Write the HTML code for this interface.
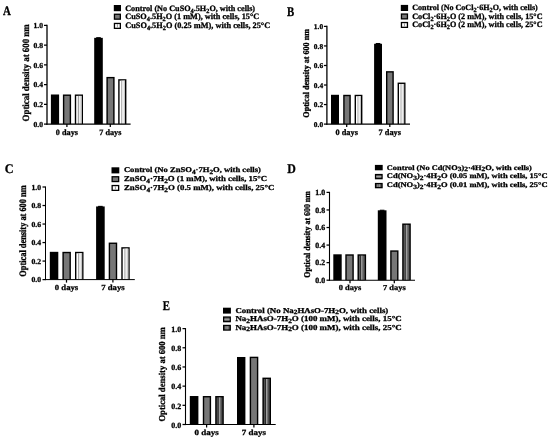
<!DOCTYPE html>
<html><head><meta charset="utf-8"><title>Figure</title>
<style>
html,body{margin:0;padding:0;background:#fff;}
body{width:550px;height:443px;overflow:hidden;}
svg{display:block;filter:blur(0.35px);}
text{font-family:"Liberation Serif", "Times New Roman", serif;fill:#000;text-rendering:geometricPrecision;}
.s{stroke:#000;stroke-width:0.28px;}
</style></head><body>
<svg width="550" height="443" viewBox="0 0 550 443">
<rect width="550" height="443" fill="#fff"/>
<text transform="translate(3 14.8) scale(0.82 1)" font-size="13.2" font-weight="bold" class="s">A</text>
<rect x="50.9" y="94.49" width="8.2" height="29.61" fill="#000"/>
<rect x="62.9" y="94.49" width="8.2" height="29.61" fill="#000"/>
<rect x="64.3" y="95.89" width="5.4" height="28.21" fill="#777777"/>
<rect x="74.8" y="94.49" width="8.2" height="29.61" fill="#000"/>
<rect x="76.2" y="95.89" width="5.4" height="28.21" fill="#fff"/>
<rect x="77.82" y="95.89" width="1.19" height="28.21" fill="#a2a2a2"/>
<rect x="79.01" y="95.89" width="1.51" height="28.21" fill="#eeeeee"/>
<rect x="80.52" y="95.89" width="1.08" height="28.21" fill="#c4c4c4"/>
<rect x="94.2" y="37.84" width="8.6" height="86.26" fill="#000"/>
<rect x="96.2" y="37.14" width="4.6" height="1.2" fill="#000"/>
<rect x="106.4" y="76.92" width="8.2" height="47.18" fill="#000"/>
<rect x="107.8" y="78.32" width="5.4" height="45.78" fill="#777777"/>
<rect x="118.2" y="79.19" width="8.2" height="44.91" fill="#000"/>
<rect x="119.6" y="80.59" width="5.4" height="43.51" fill="#fff"/>
<rect x="121.22" y="80.59" width="1.19" height="43.51" fill="#a2a2a2"/>
<rect x="122.41" y="80.59" width="1.51" height="43.51" fill="#eeeeee"/>
<rect x="123.92" y="80.59" width="1.08" height="43.51" fill="#c4c4c4"/>
<path d="M47 24.75V124.75" stroke="#000" stroke-width="1.3" fill="none"/>
<path d="M44 124.1H47" stroke="#000" stroke-width="1.25"/>
<text transform="translate(43 126.95) " font-size="7.6" font-weight="bold" text-anchor="end" class="s">0.0</text>
<path d="M44 104.36H47" stroke="#000" stroke-width="1.25"/>
<text transform="translate(43 107.21) " font-size="7.6" font-weight="bold" text-anchor="end" class="s">0.2</text>
<path d="M44 84.62H47" stroke="#000" stroke-width="1.25"/>
<text transform="translate(43 87.47) " font-size="7.6" font-weight="bold" text-anchor="end" class="s">0.4</text>
<path d="M44 64.88H47" stroke="#000" stroke-width="1.25"/>
<text transform="translate(43 67.73) " font-size="7.6" font-weight="bold" text-anchor="end" class="s">0.6</text>
<path d="M44 45.14H47" stroke="#000" stroke-width="1.25"/>
<text transform="translate(43 47.99) " font-size="7.6" font-weight="bold" text-anchor="end" class="s">0.8</text>
<path d="M44 25.4H47" stroke="#000" stroke-width="1.25"/>
<text transform="translate(43 28.25) " font-size="7.6" font-weight="bold" text-anchor="end" class="s">1.0</text>
<path d="M46.35 124.1H130.6" stroke="#000" stroke-width="1.3" fill="none"/>
<path d="M66.9 124.1V127.1" stroke="#000" stroke-width="1.25"/>
<text transform="translate(66.9 135) scale(1.0000 1)" font-size="8.200" font-weight="bold" text-anchor="middle" class="s">0 days</text>
<path d="M110.3 124.1V127.1" stroke="#000" stroke-width="1.25"/>
<text transform="translate(110.3 135) scale(1.0000 1)" font-size="8.200" font-weight="bold" text-anchor="middle" class="s">7 days</text>
<text transform="translate(29.4 72.9) rotate(-90) scale(1 1.08)" font-size="8.9" font-weight="bold" text-anchor="middle" class="s">Optical density at 600 nm</text>
<rect x="113.8" y="5" width="7.2" height="6.2" fill="#000"/>
<text transform="translate(125.2 10.7)" font-size="8.2" font-weight="bold" class="s"><tspan>Control (No CuSO</tspan><tspan font-size="6.3" dy="1.8">4</tspan><tspan dy="-1.8">.5H</tspan><tspan font-size="6.3" dy="1.8">2</tspan><tspan dy="-1.8">O, with cells)</tspan></text>
<rect x="114.45" y="14.25" width="5.9" height="4.9" fill="#777777" stroke="#000" stroke-width="1.3"/>
<text transform="translate(125.2 19.4)" font-size="8.27" font-weight="bold" class="s"><tspan>CuSO</tspan><tspan font-size="6.3" dy="1.8">4</tspan><tspan dy="-1.8">.5H</tspan><tspan font-size="6.3" dy="1.8">2</tspan><tspan dy="-1.8">O (1 mM), with cells, 15°C</tspan></text>
<rect x="114.45" y="23.45" width="5.9" height="4.9" fill="#fff" stroke="#000" stroke-width="1.3"/>
<rect x="116.9" y="24.1" width="1" height="3.6" fill="#999"/>
<text transform="translate(125.2 28.1)" font-size="8.31" font-weight="bold" class="s"><tspan>CuSO</tspan><tspan font-size="6.3" dy="1.8">4</tspan><tspan dy="-1.8">.5H</tspan><tspan font-size="6.3" dy="1.8">2</tspan><tspan dy="-1.8">O (0.25 mM), with cells, 25°C</tspan></text>
<text transform="translate(287.1 15.7) scale(0.82 1)" font-size="13.2" font-weight="bold" class="s">B</text>
<rect x="331" y="94.79" width="8" height="29.31" fill="#000"/>
<rect x="343.2" y="94.79" width="7.6" height="29.31" fill="#000"/>
<rect x="344.6" y="96.19" width="4.8" height="27.91" fill="#777777"/>
<rect x="354.6" y="94.79" width="7.8" height="29.31" fill="#000"/>
<rect x="356" y="96.19" width="5" height="27.91" fill="#fff"/>
<rect x="357.5" y="96.19" width="1.1" height="27.91" fill="#a2a2a2"/>
<rect x="358.6" y="96.19" width="1.4" height="27.91" fill="#eeeeee"/>
<rect x="360" y="96.19" width="1" height="27.91" fill="#c4c4c4"/>
<rect x="374.1" y="43.79" width="7.9" height="80.31" fill="#000"/>
<rect x="375.75" y="42.99" width="4.6" height="1.3" fill="#000"/>
<rect x="386" y="71.15" width="7.8" height="52.95" fill="#000"/>
<rect x="387.4" y="72.55" width="5" height="51.55" fill="#777777"/>
<rect x="397.6" y="82.58" width="7.9" height="41.52" fill="#000"/>
<rect x="399" y="83.98" width="5.1" height="40.12" fill="#fff"/>
<rect x="400.53" y="83.98" width="1.12" height="40.12" fill="#a2a2a2"/>
<rect x="401.65" y="83.98" width="1.43" height="40.12" fill="#eeeeee"/>
<rect x="403.08" y="83.98" width="1.02" height="40.12" fill="#c4c4c4"/>
<path d="M326.9 25.75V124.75" stroke="#000" stroke-width="1.3" fill="none"/>
<path d="M323.9 124.1H326.9" stroke="#000" stroke-width="1.25"/>
<text transform="translate(323.1 126.95) " font-size="7.4" font-weight="bold" text-anchor="end" class="s">0.0</text>
<path d="M323.9 104.56H326.9" stroke="#000" stroke-width="1.25"/>
<text transform="translate(323.1 107.41) " font-size="7.4" font-weight="bold" text-anchor="end" class="s">0.2</text>
<path d="M323.9 85.02H326.9" stroke="#000" stroke-width="1.25"/>
<text transform="translate(323.1 87.87) " font-size="7.4" font-weight="bold" text-anchor="end" class="s">0.4</text>
<path d="M323.9 65.48H326.9" stroke="#000" stroke-width="1.25"/>
<text transform="translate(323.1 68.33) " font-size="7.4" font-weight="bold" text-anchor="end" class="s">0.6</text>
<path d="M323.9 45.94H326.9" stroke="#000" stroke-width="1.25"/>
<text transform="translate(323.1 48.79) " font-size="7.4" font-weight="bold" text-anchor="end" class="s">0.8</text>
<path d="M323.9 26.4H326.9" stroke="#000" stroke-width="1.25"/>
<text transform="translate(323.1 29.25) " font-size="7.4" font-weight="bold" text-anchor="end" class="s">1.0</text>
<path d="M326.25 124.1H410" stroke="#000" stroke-width="1.3" fill="none"/>
<path d="M346.7 124.1V127.1" stroke="#000" stroke-width="1.25"/>
<text transform="translate(346.7 135.4) scale(1.0000 1)" font-size="8.300" font-weight="bold" text-anchor="middle" class="s">0 days</text>
<path d="M389.8 124.1V127.1" stroke="#000" stroke-width="1.25"/>
<text transform="translate(389.8 135.4) scale(1.0000 1)" font-size="8.300" font-weight="bold" text-anchor="middle" class="s">7 days</text>
<text transform="translate(308.9 73.35) rotate(-90) scale(1 1.08)" font-size="8.1" font-weight="bold" text-anchor="middle" class="s">Optical density at 600 nm</text>
<rect x="400.8" y="4.9" width="7.3" height="6.1" fill="#000"/>
<text transform="translate(412.2 10.2)" font-size="8.07" font-weight="bold" class="s"><tspan>Control (No CoCl</tspan><tspan font-size="6.3" dy="1.8">2</tspan><tspan dy="-1.8">·6H</tspan><tspan font-size="6.3" dy="1.8">2</tspan><tspan dy="-1.8">O, with cells)</tspan></text>
<rect x="401.45" y="14.05" width="6" height="4.8" fill="#777777" stroke="#000" stroke-width="1.3"/>
<text transform="translate(412.2 19)" font-size="8.2" font-weight="bold" class="s"><tspan>CoCl</tspan><tspan font-size="6.3" dy="1.8">2</tspan><tspan dy="-1.8">·6H</tspan><tspan font-size="6.3" dy="1.8">2</tspan><tspan dy="-1.8">O (2 mM), with cells, 15°C</tspan></text>
<rect x="401.45" y="22.55" width="6" height="4.8" fill="#fff" stroke="#000" stroke-width="1.3"/>
<rect x="403.95" y="23.2" width="1" height="3.5" fill="#999"/>
<text transform="translate(412.2 27.4)" font-size="8.2" font-weight="bold" class="s"><tspan>CoCl</tspan><tspan font-size="6.3" dy="1.8">2</tspan><tspan dy="-1.8">·6H</tspan><tspan font-size="6.3" dy="1.8">2</tspan><tspan dy="-1.8">O (2 mM), with cells, 25°C</tspan></text>
<text transform="translate(4.8 172.9) scale(0.93 1)" font-size="13.2" font-weight="bold" class="s">C</text>
<rect x="49.8" y="251.82" width="8.5" height="27.78" fill="#000"/>
<rect x="62.4" y="251.82" width="8.5" height="27.78" fill="#000"/>
<rect x="63.8" y="253.22" width="5.7" height="26.38" fill="#777777"/>
<rect x="75" y="251.82" width="8.5" height="27.78" fill="#000"/>
<rect x="76.4" y="253.22" width="5.7" height="26.38" fill="#fff"/>
<rect x="78.11" y="253.22" width="1.25" height="26.38" fill="#a2a2a2"/>
<rect x="79.36" y="253.22" width="1.6" height="26.38" fill="#eeeeee"/>
<rect x="80.96" y="253.22" width="1.14" height="26.38" fill="#c4c4c4"/>
<rect x="96.1" y="206.45" width="8.6" height="73.15" fill="#000"/>
<rect x="98.1" y="205.85" width="4.6" height="1.1" fill="#000"/>
<rect x="108.7" y="242.56" width="8.5" height="37.04" fill="#000"/>
<rect x="110.1" y="243.96" width="5.7" height="35.64" fill="#777777"/>
<rect x="121.3" y="247.19" width="8.4" height="32.41" fill="#000"/>
<rect x="122.7" y="248.59" width="5.6" height="31.01" fill="#fff"/>
<rect x="124.38" y="248.59" width="1.23" height="31.01" fill="#a2a2a2"/>
<rect x="125.61" y="248.59" width="1.57" height="31.01" fill="#eeeeee"/>
<rect x="127.18" y="248.59" width="1.12" height="31.01" fill="#c4c4c4"/>
<path d="M45.5 186.5V280.1" stroke="#000" stroke-width="1.0" fill="none"/>
<path d="M42.5 279.6H45.5" stroke="#000" stroke-width="1.25"/>
<text transform="translate(41.1 282.4) " font-size="7.7" font-weight="bold" text-anchor="end" class="s">0.0</text>
<path d="M42.5 261.08H45.5" stroke="#000" stroke-width="1.25"/>
<text transform="translate(41.1 263.88) " font-size="7.7" font-weight="bold" text-anchor="end" class="s">0.2</text>
<path d="M42.5 242.56H45.5" stroke="#000" stroke-width="1.25"/>
<text transform="translate(41.1 245.36) " font-size="7.7" font-weight="bold" text-anchor="end" class="s">0.4</text>
<path d="M42.5 224.04H45.5" stroke="#000" stroke-width="1.25"/>
<text transform="translate(41.1 226.84) " font-size="7.7" font-weight="bold" text-anchor="end" class="s">0.6</text>
<path d="M42.5 205.52H45.5" stroke="#000" stroke-width="1.25"/>
<text transform="translate(41.1 208.32) " font-size="7.7" font-weight="bold" text-anchor="end" class="s">0.8</text>
<path d="M42.5 187H45.5" stroke="#000" stroke-width="1.25"/>
<text transform="translate(41.1 189.8) " font-size="7.7" font-weight="bold" text-anchor="end" class="s">1.0</text>
<path d="M45 279.6H134.8" stroke="#000" stroke-width="1.0" fill="none"/>
<path d="M66.5 279.6V282.6" stroke="#000" stroke-width="1.25"/>
<text transform="translate(66.5 289.7) scale(1.1111 1)" font-size="7.830" font-weight="bold" text-anchor="middle" class="s">0 days</text>
<path d="M112.9 279.6V282.6" stroke="#000" stroke-width="1.25"/>
<text transform="translate(112.9 289.7) scale(1.1111 1)" font-size="7.830" font-weight="bold" text-anchor="middle" class="s">7 days</text>
<text transform="translate(25.6 231.05) rotate(-90) scale(1 1.17)" font-size="8.36" font-weight="bold" text-anchor="middle" class="s">Optical density at 600 nm</text>
<rect x="111.5" y="167.3" width="7.8" height="6.1" fill="#000"/>
<text transform="translate(123.9 172.4) scale(1.1628 1)" font-size="7.396" font-weight="bold" class="s"><tspan>Control (No ZnSO</tspan><tspan font-size="6.3" dy="1.8">4</tspan><tspan dy="-1.8">·7H</tspan><tspan font-size="6.3" dy="1.8">2</tspan><tspan dy="-1.8">O, with cells)</tspan></text>
<rect x="112.15" y="176.75" width="6.5" height="4.8" fill="#777777" stroke="#000" stroke-width="1.3"/>
<text transform="translate(123.9 181) scale(1.1628 1)" font-size="7.559" font-weight="bold" class="s"><tspan>ZnSO</tspan><tspan font-size="6.3" dy="1.8">4</tspan><tspan dy="-1.8">·7H</tspan><tspan font-size="6.3" dy="1.8">2</tspan><tspan dy="-1.8">O (1 mM), with cells, 15°C</tspan></text>
<rect x="112.15" y="185.55" width="6.5" height="4.8" fill="#fff" stroke="#000" stroke-width="1.3"/>
<rect x="114.9" y="186.2" width="1" height="3.5" fill="#999"/>
<text transform="translate(123.9 189.7) scale(1.1628 1)" font-size="7.585" font-weight="bold" class="s"><tspan>ZnSO</tspan><tspan font-size="6.3" dy="1.8">4</tspan><tspan dy="-1.8">·7H</tspan><tspan font-size="6.3" dy="1.8">2</tspan><tspan dy="-1.8">O (0.5 mM), with cells, 25°C</tspan></text>
<text transform="translate(287.2 172.5) scale(0.9 1)" font-size="13.2" font-weight="bold" class="s">D</text>
<rect x="333.3" y="254.3" width="8.4" height="25.9" fill="#000"/>
<rect x="345.3" y="254.3" width="8.5" height="25.9" fill="#000"/>
<rect x="346.7" y="255.7" width="5.7" height="24.5" fill="#777777"/>
<rect x="357.5" y="254.3" width="8.6" height="25.9" fill="#000"/>
<rect x="358.9" y="255.7" width="5.8" height="24.5" fill="#5e5e5e"/>
<rect x="360.18" y="255.7" width="0.93" height="24.5" fill="#262626"/>
<rect x="361.1" y="255.7" width="1.28" height="24.5" fill="#a0a0a0"/>
<rect x="362.38" y="255.7" width="0.7" height="24.5" fill="#7a7a7a"/>
<rect x="377.8" y="210.31" width="8.7" height="69.89" fill="#000"/>
<rect x="379.85" y="209.71" width="4.6" height="1.1" fill="#000"/>
<rect x="390.2" y="250.35" width="8.3" height="29.85" fill="#000"/>
<rect x="391.6" y="251.75" width="5.5" height="28.45" fill="#777777"/>
<rect x="402.2" y="223.48" width="8.6" height="56.72" fill="#000"/>
<rect x="403.6" y="224.88" width="5.8" height="55.32" fill="#5e5e5e"/>
<rect x="404.88" y="224.88" width="0.93" height="55.32" fill="#262626"/>
<rect x="405.8" y="224.88" width="1.28" height="55.32" fill="#a0a0a0"/>
<rect x="407.08" y="224.88" width="0.7" height="55.32" fill="#7a7a7a"/>
<path d="M329.5 191.85V280.75" stroke="#000" stroke-width="1.1" fill="none"/>
<path d="M326.5 280.2H329.5" stroke="#000" stroke-width="1.25"/>
<text transform="translate(325.2 283) " font-size="7.9" font-weight="bold" text-anchor="end" class="s">0.0</text>
<path d="M326.5 262.64H329.5" stroke="#000" stroke-width="1.25"/>
<text transform="translate(325.2 265.44) " font-size="7.9" font-weight="bold" text-anchor="end" class="s">0.2</text>
<path d="M326.5 245.08H329.5" stroke="#000" stroke-width="1.25"/>
<text transform="translate(325.2 247.88) " font-size="7.9" font-weight="bold" text-anchor="end" class="s">0.4</text>
<path d="M326.5 227.52H329.5" stroke="#000" stroke-width="1.25"/>
<text transform="translate(325.2 230.32) " font-size="7.9" font-weight="bold" text-anchor="end" class="s">0.6</text>
<path d="M326.5 209.96H329.5" stroke="#000" stroke-width="1.25"/>
<text transform="translate(325.2 212.76) " font-size="7.9" font-weight="bold" text-anchor="end" class="s">0.8</text>
<path d="M326.5 192.4H329.5" stroke="#000" stroke-width="1.25"/>
<text transform="translate(325.2 195.2) " font-size="7.9" font-weight="bold" text-anchor="end" class="s">1.0</text>
<path d="M328.95 280.2H415" stroke="#000" stroke-width="1.1" fill="none"/>
<path d="M350 280.2V283.2" stroke="#000" stroke-width="1.25"/>
<text transform="translate(350 290) scale(1.1111 1)" font-size="7.605" font-weight="bold" text-anchor="middle" class="s">0 days</text>
<path d="M394.3 280.2V283.2" stroke="#000" stroke-width="1.25"/>
<text transform="translate(394.3 290) scale(1.1111 1)" font-size="7.605" font-weight="bold" text-anchor="middle" class="s">7 days</text>
<text transform="translate(310 234.45) rotate(-90) scale(1 1.11)" font-size="7.92" font-weight="bold" text-anchor="middle" class="s">Optical density at 600 nm</text>
<rect x="374.9" y="164.9" width="7.8" height="5.4" fill="#000"/>
<text transform="translate(386.8 169.6) scale(1.1905 1)" font-size="7.031" font-weight="bold" class="s"><tspan>Control (No Cd(NO</tspan><tspan font-size="6.3" dy="1.8">3</tspan><tspan dy="-1.8">)</tspan><tspan font-size="6.3" dy="1.8">2</tspan><tspan dy="-1.8">·4H</tspan><tspan font-size="6.3" dy="1.8">2</tspan><tspan dy="-1.8">O, with cells)</tspan></text>
<rect x="375.55" y="174.55" width="6.5" height="4.1" fill="#666" stroke="#000" stroke-width="1.3"/>
<path d="M376.2 176.6H381.4" stroke="#b8b8b8" stroke-width="0.8"/>
<text transform="translate(386.8 178.3) scale(1.1905 1)" font-size="7.132" font-weight="bold" class="s"><tspan>Cd(NO</tspan><tspan font-size="6.3" dy="1.8">3</tspan><tspan dy="-1.8">)</tspan><tspan font-size="6.3" dy="1.8">2</tspan><tspan dy="-1.8">·4H</tspan><tspan font-size="6.3" dy="1.8">2</tspan><tspan dy="-1.8">O (0.05 mM), with cells, 15°C</tspan></text>
<rect x="375.55" y="183.55" width="6.5" height="4.1" fill="#555" stroke="#000" stroke-width="1.3"/>
<rect x="377.5" y="184.2" width="0.8" height="2.8" fill="#aaa"/>
<rect x="379.3" y="184.2" width="0.8" height="2.8" fill="#aaa"/>
<text transform="translate(386.8 187.1) scale(1.1905 1)" font-size="7.132" font-weight="bold" class="s"><tspan>Cd(NO</tspan><tspan font-size="6.3" dy="1.8">3</tspan><tspan dy="-1.8">)</tspan><tspan font-size="6.3" dy="1.8">2</tspan><tspan dy="-1.8">·4H</tspan><tspan font-size="6.3" dy="1.8">2</tspan><tspan dy="-1.8">O (0.01 mM), with cells, 25°C</tspan></text>
<text transform="translate(162.8 309.8) scale(0.82 1)" font-size="13.2" font-weight="bold" class="s">E</text>
<rect x="189.8" y="396.02" width="8.6" height="28.48" fill="#000"/>
<rect x="202.8" y="396.02" width="8.3" height="28.48" fill="#000"/>
<rect x="204.2" y="397.42" width="5.5" height="27.08" fill="#777777"/>
<rect x="215.2" y="396.02" width="8.6" height="28.48" fill="#000"/>
<rect x="216.6" y="397.42" width="5.8" height="27.08" fill="#4e4e4e"/>
<rect x="217.88" y="397.42" width="0.93" height="27.08" fill="#262626"/>
<rect x="218.8" y="397.42" width="1.28" height="27.08" fill="#a0a0a0"/>
<rect x="220.08" y="397.42" width="0.7" height="27.08" fill="#7a7a7a"/>
<rect x="237" y="356.99" width="8.4" height="67.51" fill="#000"/>
<rect x="249.7" y="356.7" width="8.6" height="67.8" fill="#000"/>
<rect x="251.1" y="358.1" width="5.8" height="66.4" fill="#777777"/>
<rect x="262.4" y="377.6" width="8.6" height="46.9" fill="#000"/>
<rect x="263.8" y="379" width="5.8" height="45.5" fill="#4e4e4e"/>
<rect x="265.08" y="379" width="0.93" height="45.5" fill="#262626"/>
<rect x="266" y="379" width="1.28" height="45.5" fill="#a0a0a0"/>
<rect x="267.28" y="379" width="0.7" height="45.5" fill="#7a7a7a"/>
<path d="M185.5 328.05V425.05" stroke="#000" stroke-width="1.1" fill="none"/>
<path d="M182.5 424.5H185.5" stroke="#000" stroke-width="1.25"/>
<text transform="translate(181.3 427.7) " font-size="8.0" font-weight="bold" text-anchor="end" class="s">0.0</text>
<path d="M182.5 405.32H185.5" stroke="#000" stroke-width="1.25"/>
<text transform="translate(181.3 408.52) " font-size="8.0" font-weight="bold" text-anchor="end" class="s">0.2</text>
<path d="M182.5 386.14H185.5" stroke="#000" stroke-width="1.25"/>
<text transform="translate(181.3 389.34) " font-size="8.0" font-weight="bold" text-anchor="end" class="s">0.4</text>
<path d="M182.5 366.96H185.5" stroke="#000" stroke-width="1.25"/>
<text transform="translate(181.3 370.16) " font-size="8.0" font-weight="bold" text-anchor="end" class="s">0.6</text>
<path d="M182.5 347.78H185.5" stroke="#000" stroke-width="1.25"/>
<text transform="translate(181.3 350.98) " font-size="8.0" font-weight="bold" text-anchor="end" class="s">0.8</text>
<path d="M182.5 328.6H185.5" stroke="#000" stroke-width="1.25"/>
<text transform="translate(181.3 331.8) " font-size="8.0" font-weight="bold" text-anchor="end" class="s">1.0</text>
<path d="M184.95 424.5H275.7" stroke="#000" stroke-width="1.1" fill="none"/>
<path d="M206.6 424.5V427.5" stroke="#000" stroke-width="1.25"/>
<text transform="translate(206.6 435.3) scale(1.1364 1)" font-size="7.920" font-weight="bold" text-anchor="middle" class="s">0 days</text>
<path d="M253.9 424.5V427.5" stroke="#000" stroke-width="1.25"/>
<text transform="translate(253.9 435.3) scale(1.1364 1)" font-size="7.920" font-weight="bold" text-anchor="middle" class="s">7 days</text>
<text transform="translate(165.1 374.4) rotate(-90) scale(1 1.05)" font-size="8.64" font-weight="bold" text-anchor="middle" class="s">Optical density at 600 nm</text>
<rect x="223" y="307.7" width="7.9" height="5.9" fill="#000"/>
<text transform="translate(235.4 312.6) scale(1.1765 1)" font-size="7.522" font-weight="bold" class="s"><tspan>Control (No Na</tspan><tspan font-size="6.3" dy="1.8">2</tspan><tspan dy="-1.8">HAsO-7H</tspan><tspan font-size="6.3" dy="1.8">2</tspan><tspan dy="-1.8">O, with cells)</tspan></text>
<rect x="223.65" y="317.05" width="6.6" height="4.6" fill="#666" stroke="#000" stroke-width="1.3"/>
<path d="M224.3 319.35H229.6" stroke="#b8b8b8" stroke-width="0.8"/>
<text transform="translate(235.4 321.3) scale(1.1765 1)" font-size="7.582" font-weight="bold" class="s"><tspan>Na</tspan><tspan font-size="6.3" dy="1.8">2</tspan><tspan dy="-1.8">HAsO-7H</tspan><tspan font-size="6.3" dy="1.8">2</tspan><tspan dy="-1.8">O (100 mM), with cells, 15°C</tspan></text>
<rect x="223.65" y="325.45" width="6.6" height="4.6" fill="#555" stroke="#000" stroke-width="1.3"/>
<rect x="225.65" y="326.1" width="0.8" height="3.3" fill="#aaa"/>
<rect x="227.45" y="326.1" width="0.8" height="3.3" fill="#aaa"/>
<text transform="translate(235.4 329.5) scale(1.1765 1)" font-size="7.582" font-weight="bold" class="s"><tspan>Na</tspan><tspan font-size="6.3" dy="1.8">2</tspan><tspan dy="-1.8">HAsO-7H</tspan><tspan font-size="6.3" dy="1.8">2</tspan><tspan dy="-1.8">O (100 mM), with cells, 25°C</tspan></text>
</svg>
</body></html>
